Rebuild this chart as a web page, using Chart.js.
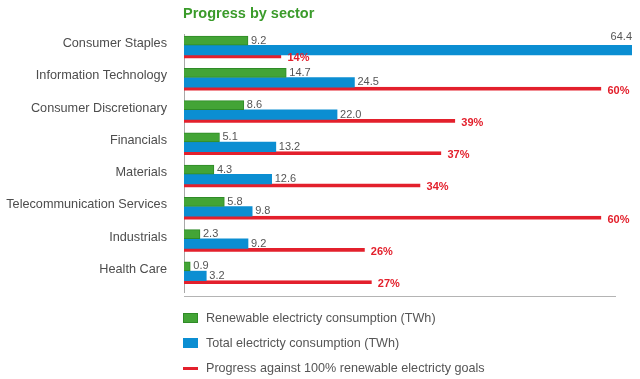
<!DOCTYPE html>
<html>
<head>
<meta charset="utf-8">
<script src="https://cdn.jsdelivr.net/npm/chart.js@4/dist/chart.umd.min.js"></script>
<style>
  html, body { margin: 0; padding: 0; background: #fff; }
  #wrap { position: relative; width: 640px; height: 379px; overflow: hidden; font-family: "Liberation Sans", Arial, sans-serif; }
  #c { position: absolute; left: 0; top: 0; }
  #title { position: absolute; left: 183px; top: 5px; font-size: 14.5px; font-weight: bold; color: #3a9b2a; white-space: nowrap; }
  #sep { position: absolute; left: 184px; top: 296px; width: 432px; height: 1px; background: #b4b4b4; }
  .lg { position: absolute; left: 183px; height: 16px; font-size: 12.6px; color: #555; white-space: nowrap; line-height: 16px; }
  .lg .sw { position: absolute; left: 0; top: 3px; width: 15px; height: 10px; }
  .lg .tx { position: absolute; left: 23px; top: 0; }
</style>
</head>
<body>
<div id="wrap">
  <canvas id="c" width="640" height="379"></canvas>
  <div id="title">Progress by sector</div>
  <div id="sep"></div>
  <div id="legend"></div>
</div>
<script>
// ---- data ----
const categories = ['Consumer Staples', 'Information Technology', 'Consumer Discretionary', 'Financials', 'Materials', 'Telecommunication Services', 'Industrials', 'Health Care'];
const renewableTWh = [9.2, 14.7, 8.6, 5.1, 4.3, 5.8, 2.3, 0.9];
const totalTWh = [64.4, 24.5, 22.0, 13.2, 12.6, 9.8, 9.2, 3.2];
const progressPct = [14, 60, 39, 37, 34, 60, 26, 27];
const seriesNames = ['Renewable electricty consumption (TWh)', 'Total electricty consumption (TWh)', 'Progress against 100% renewable electricty goals'];
const titleText = 'Progress by sector';

const GREEN = '#43a436', GREEN_EDGE = '#2f8b27', BLUE = '#0b8ed2', RED = '#e3202c';

// legend (HTML)
const legendEl = document.getElementById('legend');
const legendColors = [GREEN, BLUE, RED];
seriesNames.forEach((name, i) => {
  const d = document.createElement('div');
  d.className = 'lg';
  d.style.top = (310 + i * 25) + 'px';
  const sw = document.createElement('span');
  sw.className = 'sw';
  sw.style.background = legendColors[i];
  if (i === 0) { sw.style.boxSizing = 'border-box'; sw.style.border = '1px solid ' + GREEN_EDGE; }
  if (i === 2) { sw.style.height = '3px'; sw.style.top = '7px'; }
  const tx = document.createElement('span');
  tx.className = 'tx';
  tx.textContent = name;
  d.appendChild(sw); d.appendChild(tx);
  legendEl.appendChild(d);
});
document.getElementById('title').textContent = titleText;

const valueLabels = {
  id: 'valueLabels',
  afterDatasetsDraw(chart) {
    const ctx = chart.ctx;
    const area = chart.chartArea;
    ctx.save();
    // green & blue
    [0, 1].forEach(di => {
      const meta = chart.getDatasetMeta(di);
      const vals = chart.data.datasets[di].data;
      ctx.font = '11px "Liberation Sans", Arial, sans-serif';
      ctx.fillStyle = '#555';
      ctx.textBaseline = 'middle';
      meta.data.forEach((el, j) => {
        const txt = Number(vals[j]).toFixed(1);
        const w = ctx.measureText(txt).width;
        if (el.x + 3 + w > area.right + 6) {
          ctx.textAlign = 'right';
          ctx.fillText(txt, el.x, el.y - 13);
        } else {
          ctx.textAlign = 'left';
          ctx.fillText(txt, el.x + 3, el.y);
        }
      });
    });
    // red
    const meta = chart.getDatasetMeta(2);
    ctx.font = 'bold 11px "Liberation Sans", Arial, sans-serif';
    ctx.fillStyle = RED;
    ctx.textAlign = 'left';
    ctx.textBaseline = 'middle';
    meta.data.forEach((el, j) => {
      const lineY = el.y - el.height / 2 + 1.5;
      ctx.fillText(progressPct[j] + '%', el.x + 6, lineY + 2);
    });
    ctx.restore();
  }
};

new Chart(document.getElementById('c'), {
  type: 'bar',
  data: {
    labels: categories,
    datasets: [
      { label: seriesNames[0], data: renewableTWh, backgroundColor: GREEN, borderColor: GREEN_EDGE, borderWidth: 1, borderSkipped: 'start', barThickness: 9.5, maxBarThickness: 9 },
      { label: seriesNames[1], data: totalTWh, backgroundColor: BLUE, borderWidth: 0, barThickness: 9.5 },
      { label: seriesNames[2], data: progressPct, backgroundColor: 'rgba(0,0,0,0)', borderColor: RED, borderWidth: { top: 3, right: 0, bottom: 0, left: 0 }, borderSkipped: 'start', barThickness: 9.5 }
    ]
  },
  options: {
    indexAxis: 'y',
    responsive: false,
    animation: false,
    events: [],
    layout: { padding: { left: 0, top: 34, right: 8, bottom: 87 } },
    plugins: { legend: { display: false }, title: { display: false }, tooltip: { enabled: false } },
    scales: {
      x: { type: 'linear', display: false, min: 0, max: 64.4 },
      y: {
        type: 'category',
        grid: { display: false, drawTicks: false },
        border: { display: true, color: '#a8a8a8', width: 1 },
        ticks: { padding: 17, labelOffset: -6.5, color: '#4d4d4d', font: { family: '"Liberation Sans", Arial, sans-serif', size: 12.7 } },
        afterFit(scale) { scale.width = 184; }
      }
    }
  },
  plugins: [valueLabels]
});
</script>
</body>
</html>
